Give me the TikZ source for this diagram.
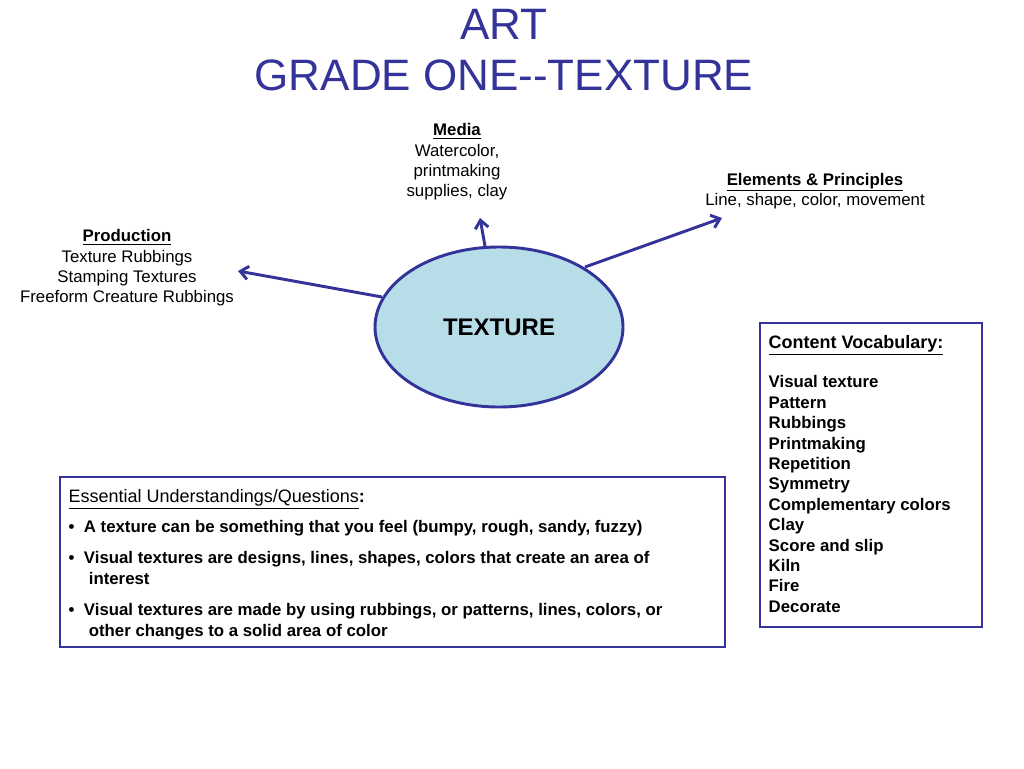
\documentclass[tikz,border=0pt]{standalone}
\usepackage{fontspec}
\setmainfont{Liberation Sans}
\usetikzlibrary{shapes.geometric,arrows.meta}
\definecolor{navy}{RGB}{51,51,153}
\definecolor{lblue}{RGB}{183,222,232}
\begin{document}
\begin{tikzpicture}[x=0.75pt,y=-0.75pt,
  lbl/.style={align=center,font=\fontsize{12.6}{15.3}\selectfont},
  bx/.style={draw=navy,line width=0.8pt},
  arr/.style={draw=navy,line width=2.2pt,-{Straight Barb[length=6pt,width=10pt]}}]
\useasboundingbox (0,0) rectangle (1024,768);
\node[text=navy,align=center,font=\fontsize{33}{38}\selectfont] (title) at (504,50) {ART\\GRADE ONE{-}{-}TEXTURE};
\node[ellipse,draw=navy,line width=2.2pt,fill=lblue,minimum width=186pt,minimum height=120pt,inner sep=0] (tex) at (499,327) {};
\node[font=\bfseries\fontsize{18}{20}\selectfont] (tl) at (499,327) {TEXTURE};
\node[lbl] (media) at (457,162) {\textbf{\underline{Media}}\\Watercolor,\\printmaking\\supplies, clay};
\node[lbl] (elem) at (815,191) {\textbf{\underline{Elements \& Principles}}\\Line, shape, color, movement};
\node[lbl] (prod) at (127,268) {\textbf{\underline{Production}}\\Texture Rubbings\\Stamping Textures\\Freeform Creature Rubbings};
\coordinate (a1) at (485,246); \coordinate (b1) at (480,218);
\coordinate (a2) at (585,267); \coordinate (b2) at (722,218);
\coordinate (a3) at (382,297); \coordinate (b3) at (238,271);
\draw[arr] (a1) -- (b1);
\draw[arr] (a2) -- (b2);
\draw[arr] (a3) -- (b3);
\draw[bx] (760,323) rectangle (982,627);
\node[anchor=north west,align=left,font=\bfseries\fontsize{12.6}{15.3}\selectfont] (vocab) at (764,331)
{\fontsize{13.5}{16}\selectfont\underline{Content Vocabulary:}\\[14pt]
Visual texture\\Pattern\\Rubbings\\Printmaking\\Repetition\\Symmetry\\Complementary colors\\Clay\\Score and slip\\Kiln\\Fire\\Decorate};
\draw[bx] (60,477) rectangle (725,647);
\node[anchor=north west,font=\fontsize{13.5}{16}\selectfont] (eu) at (64,485) {\underline{Essential Understandings/Questions}\textbf{:}};
\node[anchor=north west,align=left,font=\bfseries\fontsize{12.6}{15.3}\selectfont] (b1t) at (64,516) {\textbullet\ \ A texture can be something that you feel (bumpy, rough, sandy, fuzzy)};
\node[anchor=north west,align=left,font=\bfseries\fontsize{12.6}{15.3}\selectfont] (b2t) at (64,547) {\textbullet\ \ Visual textures are designs, lines, shapes, colors that create an area of\\\hspace*{1.2em}interest};
\node[anchor=north west,align=left,font=\bfseries\fontsize{12.6}{15.3}\selectfont] (b3t) at (64,599) {\textbullet\ \ Visual textures are made by using rubbings, or patterns, lines, colors, or\\\hspace*{1.2em}other changes to a solid area of color};
\end{tikzpicture}
\end{document}
